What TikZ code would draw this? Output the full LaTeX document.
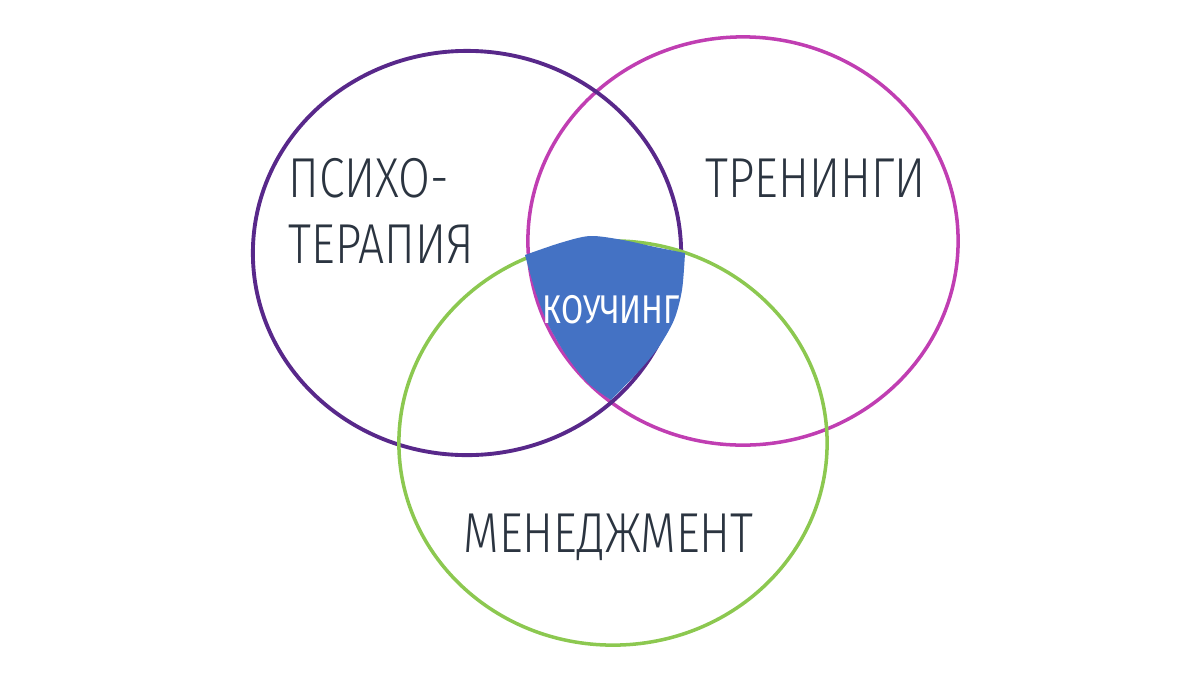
\documentclass[tikz,border=0pt]{standalone}
\usepackage{fontspec}
\newfontfamily\vennfont{Fira Sans Light}[FakeStretch=0.82]
\newfontfamily\coachfont{Fira Sans}[FakeStretch=0.8]
\definecolor{psycho}{RGB}{88,40,138}
\definecolor{trainings}{RGB}{192,62,178}
\definecolor{management}{RGB}{140,200,80}
\definecolor{coaching}{RGB}{68,114,196}
\definecolor{ink}{RGB}{43,52,64}
\tikzset{
  venntext/.style={inner sep=0pt, anchor=base west, text=ink, font=\vennfont\fontsize{16}{19}\selectfont},
  coachtext/.style={inner sep=0pt, anchor=base west, text=white, font=\coachfont\fontsize{11.4}{14}\selectfont}
}
\begin{document}
\begin{tikzpicture}[x=0.01cm, y=-0.01cm]
                \useasboundingbox (0,0) rectangle (1200,675);

                \draw [trainings, line width=1pt] (743,241) ellipse [x radius=2.15cm, y radius=2.04cm];
                \draw [psycho, line width=1.1pt] (467,253) ellipse [x radius=2.14cm, y radius=2.02cm];
                \draw [management, line width=1pt] (613,443) ellipse [x radius=2.14cm, y radius=2.02cm];

                \fill [coaching] plot [smooth] coordinates {(525,255) (560,243) (590,236) (623,240) (655,247) (685,253)}
                    -- plot [smooth] coordinates {(685,253) (682,290) (674,320) (658,348) (638,372) (611,400)}
                    -- plot [smooth] coordinates {(611,400) (588,383) (566,355) (547,322) (535,290) (525,255)}
                    -- cycle;

                \node [venntext] (psy1) at (288,197) {ПСИХО-};
                \node [venntext] (psy2) at (288,263) {ТЕРАПИЯ};
                \node [venntext] (train) at (705,197) {ТРЕНИНГИ};
                \node [venntext] (mgmt) at (463,552) {МЕНЕДЖМЕНТ};
                \node [coachtext] (coach) at (542,323) {КОУЧИНГ};
            \end{tikzpicture}
\end{document}
